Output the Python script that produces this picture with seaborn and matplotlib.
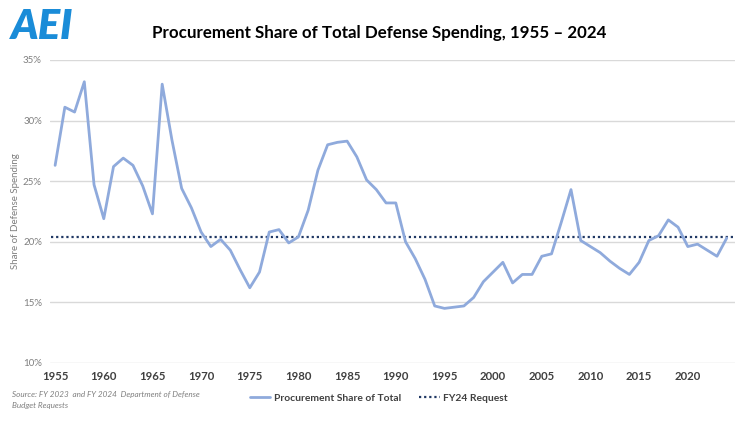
import numpy as np
import pandas as pd
import seaborn as sns
import matplotlib.pyplot as plt
from matplotlib.lines import Line2D

# Procurement share of total defense spending, percent
years = list(range(1955, 2025))
share = [
    26.3, 31.1, 30.7, 33.2, 24.7, 21.9, 26.2, 26.9, 26.3, 24.6,
    22.3, 33.0, 28.4, 24.4, 22.8, 20.8, 19.6, 20.2, 19.3, 17.7,
    16.2, 17.5, 20.8, 21.0, 19.9, 20.4, 22.6, 25.9, 28.0, 28.2,
    28.3, 27.0, 25.1, 24.3, 23.2, 23.2, 20.0, 18.6, 16.9, 14.7,
    14.5, 14.6, 14.7, 15.4, 16.7, 17.5, 18.3, 16.6, 17.3, 17.3,
    18.8, 19.0, 21.6, 24.3, 20.1, 19.6, 19.1, 18.4, 17.8, 17.3,
    18.3, 20.1, 20.5, 21.8, 21.2, 19.6, 19.8, 19.3, 18.8, 20.3,
]
fy24_request = 20.35
y_ticks = [10, 15, 20, 25, 30, 35]
x_ticks = list(range(1955, 2025, 5))

df = pd.DataFrame({"year": years, "share": share})

line_color = "#8faadc"
dot_color = "#203864"

sns.set_theme(style="white")
plt.rcParams["font.family"] = ["Lato", "DejaVu Sans"]

fig = plt.figure(figsize=(7.5, 4.22), dpi=100)
ax = fig.add_axes([0.067, 0.140, 0.913, 0.718])

for v in y_ticks:
    ax.axhline(v, color="#d9d9d9", lw=1, zorder=0)

ax.hlines(fy24_request, 1954.6, 2024.8, colors=dot_color, linestyles=(0, (1, 1.3)), lw=1.6, zorder=2)
sns.lineplot(data=df, x="year", y="share", ax=ax, color=line_color, lw=2, zorder=3)

ax.set_xlim(1954.5, 2024.85)
ax.set_ylim(10, 35)
ax.set_yticks(y_ticks)
ax.set_yticklabels([f"{v}%" for v in y_ticks], fontsize=7, color="#7f7f7f")
ax.set_xticks(x_ticks)
ax.set_xticklabels([str(v) for v in x_ticks], fontsize=8.2, color="#404040", fontweight="bold")
ax.tick_params(axis="both", length=0, pad=6)
ax.set_xlabel("")
ax.set_ylabel("Share of Defense Spending", fontsize=7, color="#7f7f7f", labelpad=2)
for s in ax.spines.values():
    s.set_visible(False)

fig.text(0.505, 0.922, "Procurement Share of Total Defense Spending, 1955 \u2013 2024",
         ha="center", va="center", fontsize=12.2, fontweight="bold", color="#000000")

# logo
fig.text(0.014, 0.935, "AEI", ha="left", va="center", fontsize=30, fontweight="heavy",
         style="italic", color="#1a8cd8")

handles = [
    Line2D([0], [0], color=line_color, lw=2),
    Line2D([0], [0], color=dot_color, lw=1.6, linestyle=(0, (1, 1.3))),
]
fig.legend(handles, ["Procurement Share of Total", "FY24 Request"], loc="center",
           bbox_to_anchor=(0.505, 0.057), ncol=2, frameon=False,
           handlelength=2.0, columnspacing=1.8, handletextpad=0.3,
           labelcolor="#404040", prop={"weight": "bold", "size": 7.4})

fig.text(0.016, 0.052, "Source: FY 2023  and FY 2024  Department of Defense\nBudget Requests",
         ha="left", va="center", fontsize=5.9, style="italic", color="#7f7f7f", linespacing=1.6)

fig.savefig("out.png", dpi=100)
